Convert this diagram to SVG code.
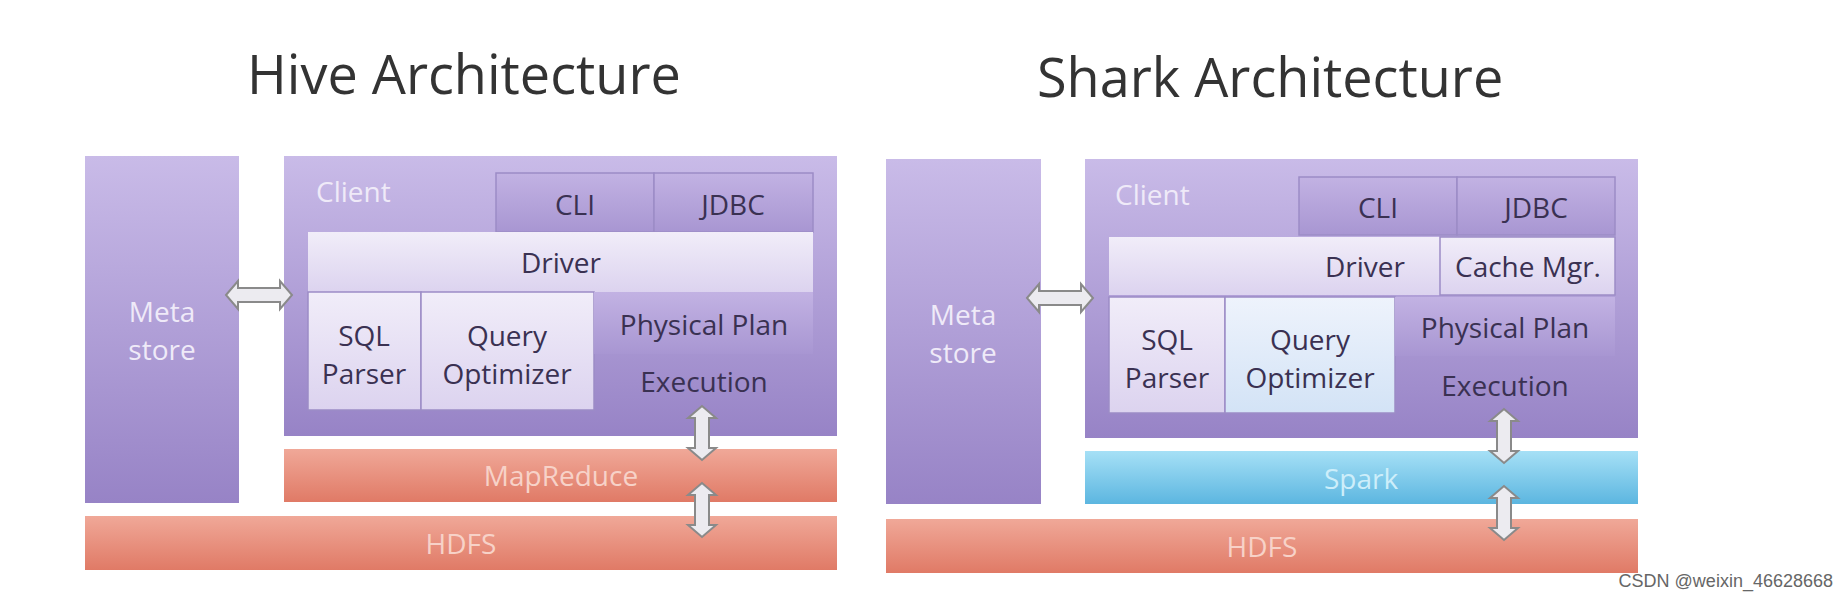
<svg xmlns="http://www.w3.org/2000/svg" width="1848" height="600" viewBox="0 0 1848 600">
<defs>
<linearGradient id="pur" x1="0" y1="0" x2="0" y2="1"><stop offset="0" stop-color="#c9bbe8"/><stop offset="1" stop-color="#9783c6"/></linearGradient>
<linearGradient id="lite" x1="0" y1="0" x2="0" y2="1"><stop offset="0" stop-color="#f1edf9"/><stop offset="1" stop-color="#dcd3ef"/></linearGradient>
<linearGradient id="blu" x1="0" y1="0" x2="0" y2="1"><stop offset="0" stop-color="#eef3fc"/><stop offset="1" stop-color="#d3e3f6"/></linearGradient>
<linearGradient id="org" x1="0" y1="0" x2="0" y2="1"><stop offset="0" stop-color="#f0a898"/><stop offset="1" stop-color="#e07a66"/></linearGradient>
<linearGradient id="spk" x1="0" y1="0" x2="0" y2="1"><stop offset="0" stop-color="#a6e0f6"/><stop offset="1" stop-color="#5cb6e0"/></linearGradient>
<linearGradient id="cell" x1="0" y1="0" x2="0" y2="1"><stop offset="0" stop-color="#c2b2e3"/><stop offset="1" stop-color="#a896d2"/></linearGradient>
<path id="harr" d="M0,0 L12,-14 L12,-7 L54,-7 L54,-14 L66,0 L54,14 L54,7 L12,7 L12,14 Z"/>
<path id="varr" d="M0,0 L-14,12 L-7,12 L-7,42 L-14,42 L0,54 L14,42 L7,42 L7,12 L14,12 Z"/>
</defs>
<style>
text{font-family:"Open Sans","Liberation Sans",sans-serif;text-anchor:middle}
.t{font-size:54px;fill:#333;text-anchor:start}
.d{font-size:28px;fill:#3a3152}
.w{font-size:28px;fill:#efeaf8}
.o{font-size:28px;fill:#f7d2c8}
.a{fill:#ecebf0;stroke:#8a8a8a;stroke-width:2}
.c{stroke:#9c8cc6;stroke-width:1.5}
</style>
<rect width="1848" height="600" fill="#fff"/>
<text class="t" x="247" y="94">Hive Architecture</text>
<text class="t" x="1037" y="97">Shark Architecture</text>

<g id="hive-metastore"><rect x="85" y="156" width="154" height="347" fill="url(#pur)"/><text class="w" x="162" y="322">Meta</text><text class="w" x="162" y="360">store</text></g>
<g id="hive-client"><rect x="284" y="156" width="553" height="280" fill="url(#pur)"/><text class="w" x="316" y="202" style="text-anchor:start">Client</text></g>
<g id="hive-cli"><rect x="496" y="173" width="158" height="59" fill="url(#cell)" class="c"/><text class="d" x="575" y="215">CLI</text></g>
<g id="hive-jdbc"><rect x="654" y="173" width="159" height="59" fill="url(#cell)" class="c"/><text class="d" x="733" y="215">JDBC</text></g>
<g id="hive-driver"><rect x="308" y="232" width="505" height="60" fill="url(#lite)"/><text class="d" x="561" y="273">Driver</text></g>
<g id="hive-sql"><rect x="308" y="292" width="113" height="118" fill="url(#lite)" class="c"/><text class="d" x="364" y="346">SQL</text><text class="d" x="364" y="384">Parser</text></g>
<g id="hive-qo"><rect x="421" y="292" width="173" height="118" fill="url(#lite)" class="c"/><text class="d" x="507" y="346">Query</text><text class="d" x="507" y="384">Optimizer</text></g>
<g id="hive-pp"><rect x="594" y="292" width="219" height="62" fill="url(#cell)"/><text class="d" x="704" y="335">Physical Plan</text></g>
<g id="hive-exec"><rect x="594" y="354" width="219" height="56" fill="none"/><text class="d" x="704" y="392">Execution</text></g>
<g id="hive-mr"><rect x="284" y="449" width="553" height="53" fill="url(#org)"/><text class="o" x="561" y="486">MapReduce</text></g>
<g id="hive-hdfs"><rect x="85" y="516" width="752" height="54" fill="url(#org)"/><text class="o" x="461" y="554">HDFS</text></g>

<g id="shark-metastore"><rect x="886" y="159" width="155" height="345" fill="url(#pur)"/><text class="w" x="963" y="325">Meta</text><text class="w" x="963" y="363">store</text></g>
<g id="shark-client"><rect x="1085" y="159" width="553" height="279" fill="url(#pur)"/><text class="w" x="1115" y="205" style="text-anchor:start">Client</text></g>
<g id="shark-cli"><rect x="1299" y="177" width="158" height="58" fill="url(#cell)" class="c"/><text class="d" x="1378" y="218">CLI</text></g>
<g id="shark-jdbc"><rect x="1457" y="177" width="158" height="58" fill="url(#cell)" class="c"/><text class="d" x="1536" y="218">JDBC</text></g>
<g id="shark-driver"><rect x="1109" y="237" width="331" height="58" fill="url(#lite)"/><text class="d" x="1365" y="277">Driver</text></g>
<g id="shark-cache"><rect x="1440" y="237" width="175" height="58" fill="url(#lite)" class="c"/><text class="d" x="1528" y="277">Cache Mgr.</text></g>
<g id="shark-sql"><rect x="1109" y="297" width="116" height="116" fill="url(#lite)" class="c"/><text class="d" x="1167" y="350">SQL</text><text class="d" x="1167" y="388">Parser</text></g>
<g id="shark-qo"><rect x="1225" y="297" width="170" height="116" fill="url(#blu)" class="c"/><text class="d" x="1310" y="350">Query</text><text class="d" x="1310" y="388">Optimizer</text></g>
<g id="shark-pp"><rect x="1395" y="297" width="220" height="59" fill="url(#cell)"/><text class="d" x="1505" y="338">Physical Plan</text></g>
<g id="shark-exec"><rect x="1395" y="356" width="220" height="57" fill="none"/><text class="d" x="1505" y="396">Execution</text></g>
<g id="shark-spark"><rect x="1085" y="451" width="553" height="53" fill="url(#spk)"/><text class="w" x="1361" y="489" style="fill:#cdeefa">Spark</text></g>
<g id="shark-hdfs"><rect x="886" y="519" width="752" height="54" fill="url(#org)"/><text class="o" x="1262" y="557">HDFS</text></g>

<g id="connectors">
<use href="#harr" x="226" y="295" class="a"/>
<use href="#varr" x="702" y="406" class="a"/>
<use href="#varr" x="702" y="483" class="a"/>
<use href="#harr" x="1027" y="298" class="a"/>
<use href="#varr" x="1504" y="409" class="a"/>
<use href="#varr" x="1504" y="486" class="a"/>
</g>
<text x="1833" y="587" style="font-family:'Liberation Sans',sans-serif;font-size:18px;fill:#666;text-anchor:end">CSDN @weixin_46628668</text>
</svg>
